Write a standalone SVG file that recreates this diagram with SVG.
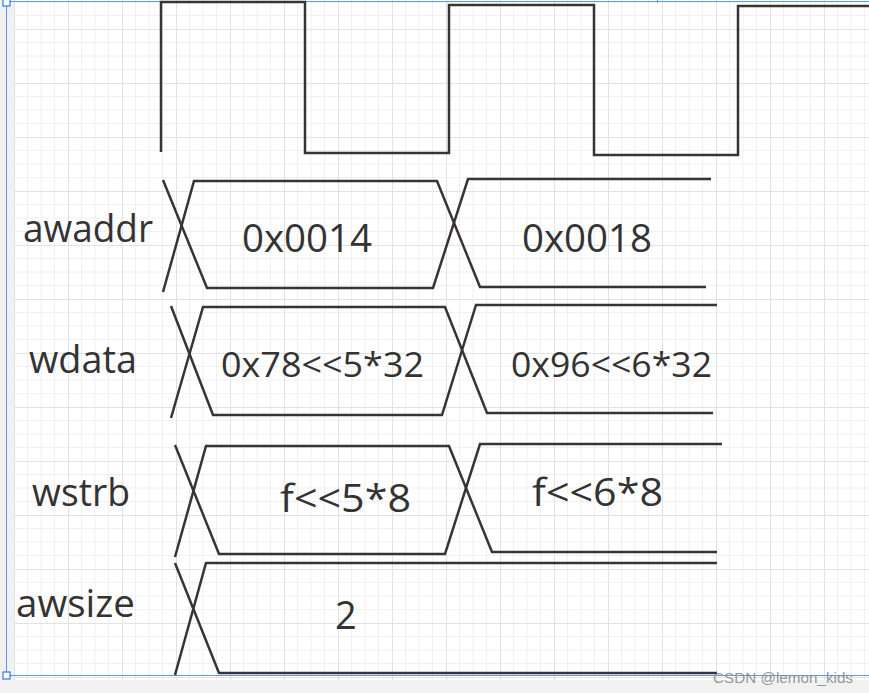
<svg xmlns="http://www.w3.org/2000/svg" width="869" height="693" viewBox="0 0 869 693">
<defs>
<pattern id="grid" patternUnits="userSpaceOnUse" x="14" y="29" width="54" height="54">
<path d="M13.5,0V54M27,0V54M40.5,0V54M0,13.5H54M0,27H54M0,40.5H54" fill="none" stroke="#f0f0f0" stroke-width="1"/>
<path d="M0.5,0V54M0,0.5H54" fill="none" stroke="#e2e2e2" stroke-width="1"/>
</pattern>
</defs>
<style>
.sig{fill:none;stroke:#3a3333;stroke-width:2.5;stroke-linejoin:miter}
.lbl{font-family:"Open Sans","Noto Sans","Liberation Sans",sans-serif;fill:#333333}
.val{font-family:"Open Sans","Noto Sans","Liberation Sans",sans-serif;fill:#333333}
.sel{fill:none;stroke:#5b9be6;stroke-width:1}
</style>
<rect x="0" y="0" width="869" height="693" fill="#f1f1f1"/>
<rect x="14" y="0" width="855" height="680" fill="#ffffff"/>
<rect x="14" y="0" width="855" height="680" fill="url(#grid)"/>
<g id="selection">
<path class="sel" d="M6.5,1.5H869M6.5,2V675.5M6.5,675.5H869M657.5,0V3"/>
<rect x="3" y="-1" width="7" height="7" fill="#ffffff" stroke="#2f7be0" stroke-width="1.2"/>
<rect x="3" y="672" width="7" height="7" fill="#ffffff" stroke="#2f7be0" stroke-width="1.2"/>
</g>
<g id="clk">
<path class="sig" d="M161,152V2H305V153H449V5H594V155H738V6H869"/>
</g>
<g id="awaddr">
<text class="lbl" x="23" y="242" font-size="39" textLength="130" lengthAdjust="spacingAndGlyphs">awaddr</text>
<path class="sig" d="M163,180L207,288H433L468,179H711"/>
<path class="sig" d="M163,292L194,181H437L480,287H706"/>
<text class="val" x="242" y="252" font-size="38" textLength="130" lengthAdjust="spacingAndGlyphs">0x0014</text>
<text class="val" x="522" y="252" font-size="38" textLength="130" lengthAdjust="spacingAndGlyphs">0x0018</text>
</g>
<g id="wdata">
<text class="lbl" x="29" y="373" font-size="39" textLength="108" lengthAdjust="spacingAndGlyphs">wdata</text>
<path class="sig" d="M171,306L213,415H442L476,305H717"/>
<path class="sig" d="M171,418L203,307H445L487,413H713"/>
<text class="val" x="221" y="377" font-size="34" textLength="203" lengthAdjust="spacingAndGlyphs">0x78&lt;&lt;5*32</text>
<text class="val" x="511" y="377" font-size="34" textLength="201" lengthAdjust="spacingAndGlyphs">0x96&lt;&lt;6*32</text>
</g>
<g id="wstrb">
<text class="lbl" x="32" y="506" font-size="39" textLength="98" lengthAdjust="spacingAndGlyphs">wstrb</text>
<path class="sig" d="M175,445L219,554H445L480,444H722"/>
<path class="sig" d="M175,557L206,446H449L492,552H717"/>
<text class="val" x="280" y="512" font-size="38" textLength="131" lengthAdjust="spacingAndGlyphs">f&lt;&lt;5*8</text>
<text class="val" x="532" y="506" font-size="38" textLength="131" lengthAdjust="spacingAndGlyphs">f&lt;&lt;6*8</text>
</g>
<g id="awsize">
<text class="lbl" x="16" y="617" font-size="39" textLength="119" lengthAdjust="spacingAndGlyphs">awsize</text>
<path class="sig" d="M175,563L219,673H717"/>
<path class="sig" d="M175,675L206,563H717"/>
<text class="val" x="335" y="629" font-size="38">2</text>
</g>
<g id="connectors"></g>
<text x="713" y="683" font-family="'Liberation Sans',Arial,sans-serif" font-size="15" fill="#8a8a8a" fill-opacity="0.9" textLength="140" lengthAdjust="spacingAndGlyphs">CSDN @lemon_kids</text>
</svg>
